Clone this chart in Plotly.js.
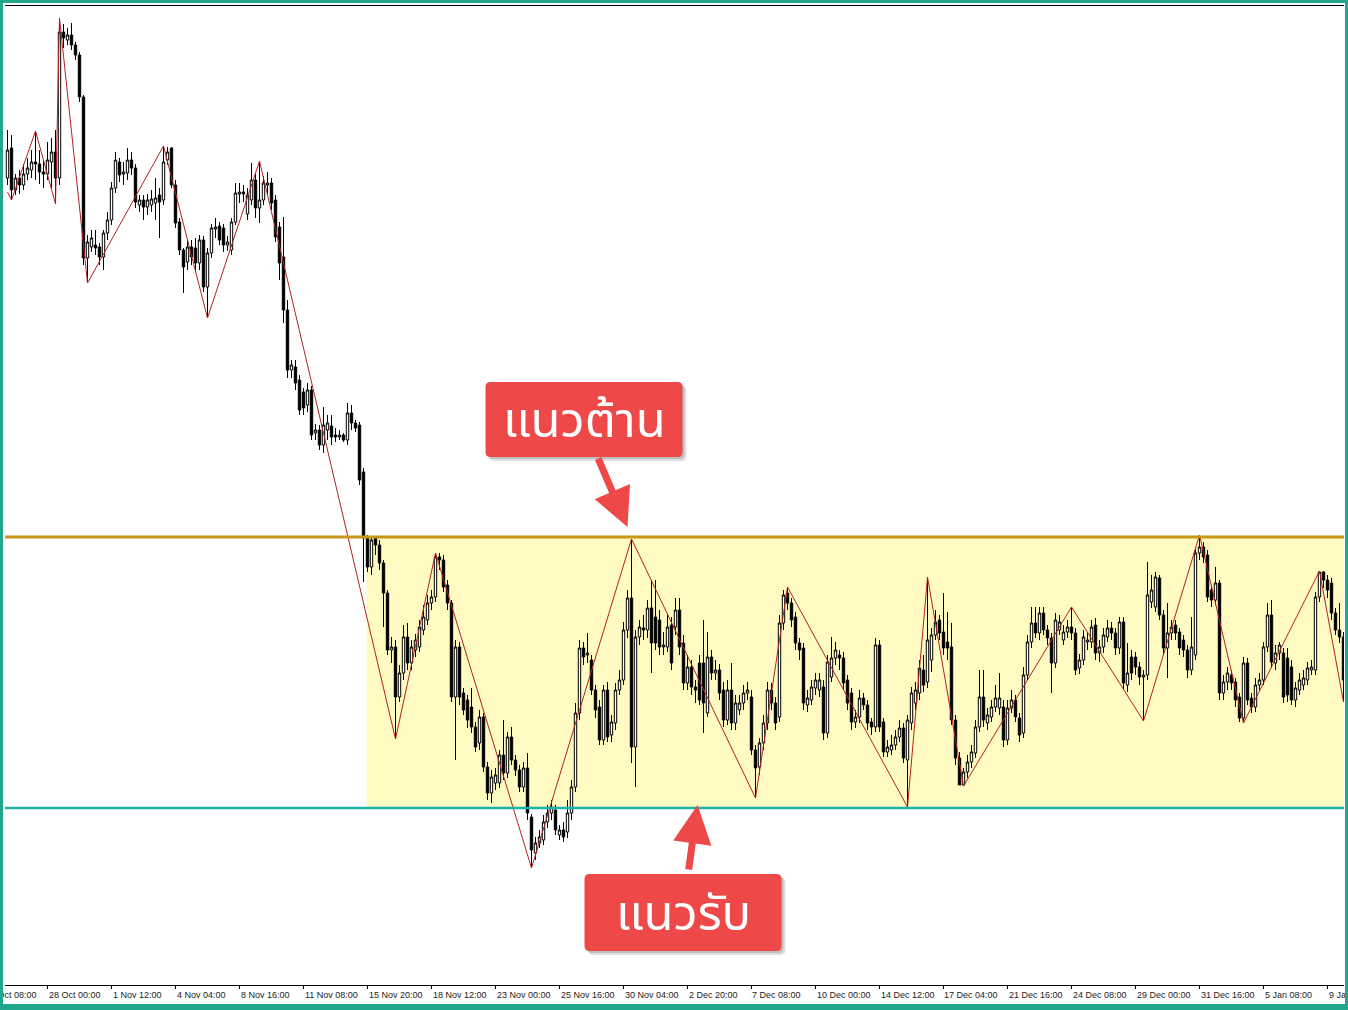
<!DOCTYPE html>
<html>
<head>
<meta charset="utf-8">
<script src="https://cdn.plot.ly/plotly-3.0.1.min.js"></script>
<style>
html,body{margin:0;padding:0;background:#fff;}
#frame{position:relative;width:1348px;height:1010px;background:#22a68c;}
#chart{position:absolute;left:3px;top:3px;width:1342px;height:1001px;background:#fff;}
</style>
</head>
<body>
<div id="frame"><div id="chart"></div></div>
<script>
// ---- data (price units: arbitrary scale) ----
const barIndex = Array.from({length: 335}, (_, i) => i);
const open = [822,852,810,822,815,826,830,838,836,828,826,838,848,822,968,960,965,955,945,903,742,753,755,753,743,767,780,812,838,826,827,840,832,795,800,793,795,797,805,800,840,852,815,778,750,738,753,752,737,760,713,747,771,774,772,755,750,778,806,808,786,800,820,792,800,815,817,800,773,743,690,630,633,620,608,595,610,567,570,555,570,574,565,563,565,560,587,577,575,528,463,433,462,455,437,407,350,353,303,327,363,337,350,353,370,380,397,403,443,440,415,397,303,353,307,300,293,273,257,283,233,207,217,217,245,227,263,240,230,213,232,183,147,157,160,178,187,190,165,170,168,187,213,287,352,345,340,310,293,260,310,265,277,310,320,370,402,253,363,372,370,392,383,380,353,353,375,373,390,357,317,333,313,337,337,287,343,327,330,310,280,310,277,290,297,307,303,250,233,257,277,310,297,283,377,407,397,383,357,352,295,300,312,310,313,267,323,342,345,342,320,307,278,283,302,295,278,273,355,278,248,250,255,263,272,240,277,297,307,330,318,340,365,380,368,358,353,280,242,215,228,238,247,273,303,277,283,293,292,293,260,292,300,282,267,325,358,377,367,387,370,362,337,370,360,368,373,367,332,340,358,358,375,347,353,363,372,367,352,378,315,343,343,333,323,325,398,393,422,385,352,367,375,368,360,350,330,345,447,453,445,410,400,417,307,318,325,318,303,282,337,302,293,315,320,353,385,337,347,347,342,333,300,310,315,320,330,330,403,428,420,417,387,370,363];
const high = [870,865,826,830,836,842,850,869,850,840,858,862,870,982,976,972,977,958,948,905,765,770,770,757,770,788,818,848,842,838,852,848,836,805,805,806,810,822,812,854,853,853,820,782,752,760,760,762,765,764,752,776,782,778,776,764,782,817,817,815,812,837,826,839,824,828,822,805,778,783,700,640,640,625,612,617,614,576,575,593,585,585,572,570,567,597,595,580,578,532,465,463,464,460,440,410,363,360,335,375,377,360,366,380,395,405,410,447,447,445,420,400,360,358,312,305,312,278,290,287,238,230,232,250,280,268,273,245,235,238,247,186,163,170,185,195,200,195,175,178,200,220,297,360,358,367,345,315,300,315,318,285,317,330,378,410,461,370,380,385,400,420,420,390,368,385,383,402,402,365,345,340,320,345,380,368,350,340,336,318,320,337,305,305,315,318,310,255,262,285,318,317,303,385,410,413,402,388,362,357,310,320,327,327,320,345,363,358,350,348,325,312,290,310,307,300,282,362,360,282,260,265,270,280,277,285,313,318,340,345,423,372,390,385,407,388,377,285,248,232,245,255,280,330,330,292,300,315,327,300,300,310,305,287,333,365,393,393,393,393,375,367,387,385,375,380,393,372,346,370,368,380,382,360,372,380,378,372,383,383,357,350,348,338,330,438,425,428,425,390,397,380,380,372,365,355,383,452,465,458,450,415,433,420,325,333,330,322,307,343,342,307,322,327,358,397,400,355,358,352,352,340,318,327,330,338,340,408,429,429,425,422,392,397,368];
const low = [815,800,805,806,810,820,822,820,816,812,820,812,796,815,952,955,950,940,898,735,717,748,745,735,730,760,775,807,818,815,820,825,792,788,780,785,788,780,762,795,835,812,772,745,707,730,735,728,730,708,682,742,762,755,748,749,745,775,797,798,780,795,782,777,795,805,790,758,720,677,622,622,610,585,585,588,560,560,550,547,560,555,558,560,558,555,570,568,515,418,428,425,445,430,373,345,337,261,298,320,330,330,343,348,365,375,390,398,430,408,390,298,240,295,285,272,267,248,250,228,200,197,210,212,220,222,235,224,208,208,180,132,140,152,155,172,180,165,160,158,162,180,208,280,335,337,305,282,255,255,258,258,270,305,315,362,237,213,355,360,362,327,350,345,345,348,330,365,345,310,310,305,297,295,267,283,320,320,300,273,275,270,270,285,290,300,245,202,225,250,270,290,270,278,370,390,373,350,340,290,288,295,305,303,260,262,318,335,330,310,290,270,272,277,290,270,265,268,268,243,243,245,250,258,237,193,270,290,300,308,312,328,360,360,345,340,275,235,216,214,222,232,242,268,273,270,278,288,285,253,255,287,278,258,262,320,352,362,360,365,355,307,332,365,355,362,360,325,326,335,350,352,340,338,347,358,360,345,346,310,308,320,325,315,279,320,392,388,380,345,322,360,360,345,343,322,325,340,440,437,398,393,395,300,300,310,310,293,278,277,295,287,288,310,315,348,332,330,340,297,298,295,293,305,310,315,325,325,398,412,402,380,365,357,298];
const close = [850,810,822,815,826,832,838,836,828,826,840,848,822,968,962,965,955,945,903,742,758,762,752,743,767,780,812,840,825,828,840,832,798,800,793,800,801,802,798,838,848,815,777,750,733,753,743,737,760,713,747,772,773,760,755,758,778,807,808,806,805,820,792,800,817,817,797,763,737,690,630,635,617,590,592,610,565,570,555,575,577,563,563,565,560,587,577,572,520,462,433,460,455,437,407,350,353,303,327,363,337,353,360,373,383,397,403,443,440,413,397,303,353,303,290,280,273,253,283,233,207,223,225,245,227,263,240,230,213,232,187,150,157,163,178,187,193,170,170,163,187,213,287,352,343,347,310,290,260,310,263,278,310,320,370,402,253,363,373,370,392,357,357,353,355,373,337,390,353,317,333,313,310,300,297,343,327,330,307,280,310,277,297,297,307,310,250,232,257,277,310,297,277,377,405,397,380,357,350,297,302,313,320,320,267,338,342,350,342,317,297,278,283,302,295,277,273,355,273,248,253,255,263,272,242,280,307,310,332,315,360,365,378,367,352,352,280,242,215,228,238,248,273,303,280,285,293,302,302,260,292,300,283,265,325,358,377,367,387,370,362,337,380,378,368,373,367,330,340,363,360,373,347,353,365,372,367,352,378,317,327,327,333,323,325,405,410,423,385,352,367,373,367,352,350,330,353,447,453,443,403,400,417,307,318,327,317,300,282,337,300,293,315,320,353,385,338,347,355,303,305,300,312,320,322,332,333,403,428,420,410,387,370,363,320];

// zigzag pivots
const zigzagBars = [0,1,7,12,13,20,39,50,63,97,107,131,156,187,195,225,230,239,266,284,298,309,328,334];
const zigzagValues = [808,800,869,796,982,717,854,682,839,261,447,132,461,202,413,193,423,214,393,279,465,277,429,298];

// levels
const resistanceLevel = 463;
const supportLevel = 192;
const rangeStartBar = 89.75;

// time axis
const tickBars = [-6,10,26,42,58,74,90,106,122,138,154,170,186,202,218,234,250,266,282,298,314,330];
const tickLabels = ["25 Oct 08:00","28 Oct 00:00","1 Nov 12:00","4 Nov 04:00","8 Nov 16:00","11 Nov 08:00","15 Nov 20:00","18 Nov 12:00","23 Nov 00:00","25 Nov 16:00","30 Nov 04:00","2 Dec 20:00","7 Dec 08:00","10 Dec 00:00","14 Dec 12:00","17 Dec 04:00","21 Dec 16:00","24 Dec 08:00","29 Dec 00:00","31 Dec 16:00","5 Jan 08:00","9 Jan 00:00"];

const labelResistance = "แนวต้าน";
const labelSupport = "แนวรับ";

// ---- drawing ----
const xRange = [-0.625, 334.125];
const yRange = [15, 994];

function roundRectPath(x0, x1, y0, y1, rx, ry) {
  return `M ${x0+rx},${y0} L ${x1-rx},${y0} Q ${x1},${y0} ${x1},${y0+ry} L ${x1},${y1-ry} Q ${x1},${y1} ${x1-rx},${y1} L ${x0+rx},${y1} Q ${x0},${y1} ${x0},${y1-ry} L ${x0},${y0+ry} Q ${x0},${y0} ${x0+rx},${y0} Z`;
}

const boxRed = '#ef4848';
const boxes = [
  {x0: 119.5, x1: 168.75, y0: 543, y1: 618, text: labelResistance},
  {x0: 144.25, x1: 193.5, y0: 49, y1: 126, text: labelSupport}
];

const shapes = [
  {type:'rect', xref:'x', yref:'y', x0: rangeStartBar, x1: 340, y0: supportLevel, y1: resistanceLevel,
   fillcolor:'#fffbc2', line:{width:0}, layer:'below'},
  {type:'line', xref:'paper', yref:'y', x0:0, x1:1, y0: resistanceLevel, y1: resistanceLevel,
   line:{color:'#c8961a', width:3}},
  {type:'line', xref:'paper', yref:'y', x0:0, x1:1, y0: supportLevel, y1: supportLevel,
   line:{color:'#20b2aa', width:2.5}}
];
boxes.forEach(b => {
  shapes.push({type:'path', xref:'x', yref:'y', path: roundRectPath(b.x0+1.0, b.x1+1.0, b.y0-4, b.y1-4, 1.25, 5),
    fillcolor:'rgba(0,0,0,0.12)', line:{width:0}});
  shapes.push({type:'path', xref:'x', yref:'y', path: roundRectPath(b.x0+0.5, b.x1+0.5, b.y0-2, b.y1-2, 1.25, 5),
    fillcolor:'rgba(0,0,0,0.15)', line:{width:0}});
  shapes.push({type:'path', xref:'x', yref:'y', path: roundRectPath(b.x0, b.x1, b.y0, b.y1, 1.25, 5),
    fillcolor: boxRed, line:{width:0}});
});

const annotations = [];
boxes.forEach(b => {
  annotations.push({xref:'x', yref:'y', x:(b.x0+b.x1)/2, y:(b.y0+b.y1)/2 - 2, text:b.text, showarrow:false,
    font:{family:'Noto Sans Thai, Tahoma, Leelawadee UI, Loma, Garuda, Noto Sans, sans-serif', size:49, color:'#ffffff'},
    xanchor:'center', yanchor:'middle'});
});
// arrows
annotations.push({xref:'x', yref:'y', x:155, y:resistanceLevel+10, text:'', showarrow:true,
  ax:-30, ay:-70, axref:'pixel', ayref:'pixel', arrowcolor:boxRed, arrowwidth:7, arrowhead:2, arrowsize:1.1, standoff:0});
annotations.push({xref:'x', yref:'y', x:172.5, y:supportLevel+3, text:'', showarrow:true,
  ax:-9, ay:66, axref:'pixel', ayref:'pixel', arrowcolor:boxRed, arrowwidth:7, arrowhead:2, arrowsize:1.1, standoff:0});
// time labels (left-aligned at ticks)
tickBars.forEach((t, k) => {
  annotations.push({xref:'paper', yref:'paper', x:(t - xRange[0])/(xRange[1]-xRange[0]), y:0,
    xanchor:'left', yanchor:'top', yshift:-3, xshift:-1, text:tickLabels[k], showarrow:false,
    font:{family:'Liberation Sans, Arial, sans-serif', size:9, color:'#222'}});
});

const traces = [
  {type:'candlestick', x: barIndex, open: open, high: high, low: low, close: close,
   increasing:{line:{color:'#000', width:1}, fillcolor:'#ffffff'},
   decreasing:{line:{color:'#000', width:1}, fillcolor:'#000000'},
   whiskerwidth:0, hoverinfo:'skip'},
  {type:'scatter', mode:'lines', x: zigzagBars, y: zigzagValues,
   line:{color:'#b22222', width:1}, hoverinfo:'skip'}
];

const layout = {
  width:1342, height:1001,
  margin:{l:2, r:1, t:3, b:19},
  paper_bgcolor:'#ffffff', plot_bgcolor:'rgba(0,0,0,0)',
  showlegend:false,
  boxgap:0.15,
  xaxis:{range:xRange, showgrid:false, zeroline:false, showline:true, mirror:true,
    linecolor:'#000', linewidth:1, ticks:'outside', ticklen:3, tickcolor:'#000',
    tickvals:tickBars, showticklabels:false, rangeslider:{visible:false}, fixedrange:true},
  yaxis:{range:yRange, showgrid:false, zeroline:false, showticklabels:false, showline:false, ticks:'', fixedrange:true},
  shapes: shapes,
  annotations: annotations
};

Plotly.newPlot('chart', traces, layout, {displayModeBar:false, staticPlot:true});
</script>
</body>
</html>
